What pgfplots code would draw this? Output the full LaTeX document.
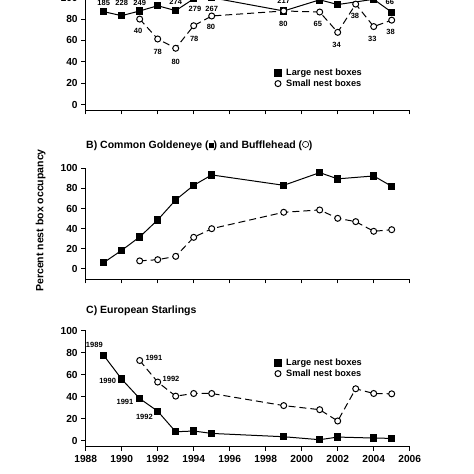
\documentclass[border=0pt]{standalone}
\usepackage{fontspec}
\setmainfont{Liberation Sans}
\usepackage{pgfplots}
\pgfplotsset{compat=1.18}

\tikzset{lab/.style={font=\bfseries\fontsize{7.5}{8}\selectfont, inner sep=0pt}}
\pgfplotsset{
  panel/.style={
    scale only axis, width=324pt,
    xmin=1988, xmax=2006,
    axis lines=left, axis line style={-, line width=0.9pt},
    xtick={1988,1990,...,2006},
    ytick={0,20,...,100},
    tick align=outside, major tick length=4.5pt,
    tick style={line width=0.9pt, black},
    tick label style={font=\bfseries\fontsize{10.2}{12}\selectfont},
    xticklabel style={yshift=-1.5pt},
    /pgf/number format/assume math mode=true,
    /pgf/number format/1000 sep={},
    scaled x ticks=false,
    clip=false,
    legend image code/.code={\draw[#1, solid] plot coordinates {(0pt,0pt)};},
    legend style={draw=none, fill=none, inner sep=0pt,
      font=\bfseries\fontsize{9.2}{10}\selectfont,
      row sep=-1.5pt, column sep=3pt},
    legend cell align=left,
  },
  large/.style={black, line width=1pt, mark=square*, mark size=3.2pt,
    mark options={solid, fill=black}},
  small/.style={black, line width=1pt, dash pattern=on 7pt off 4pt,
    mark=*, mark size=3pt, mark options={solid, fill=white}},
}

\begin{document}
\begin{tikzpicture}
\useasboundingbox (0,0) rectangle (474pt,474pt);
\clip (0,0) rectangle (474pt,474pt);

% A) top panel, cut off at the top
\begin{axis}[panel, height=112.3pt, ymin=-5, ymax=100,
  at={(85.7pt,364pt)}, anchor=south west, xticklabels={},
  legend style={at={(0.583,0.386)}, anchor=north west}]
\addplot[large] coordinates {
  (1989,86.9) (1990,83.2) (1991,87.6) (1992,92.5) (1993,87.9) (1994,99)
  (1995,100) (1999,87.6) (2001,98) (2002,93.6) (2004,98.5) (2005,86.4)};
\addplot[small] coordinates {
  (1991,80) (1992,61.4) (1993,52.7) (1994,73.8) (1995,82.9) (1999,87.6)
  (2001,86.6) (2002,67.6) (2003,94) (2004,73) (2005,79)};
\legend{Large nest boxes, Small nest boxes}
\node[lab] at (axis cs:1989,95.3) {185};
\node[lab] at (axis cs:1990,95.3) {228};
\node[lab] at (axis cs:1991,95.3) {249};
\node[lab] at (axis cs:1993,96.3) {274};
\node[lab] at (axis cs:1994.07,89.2) {279};
\node[lab] at (axis cs:1995,89.2) {267};
\node[lab] at (axis cs:1999,97) {217};
\node[lab] at (axis cs:2004.9,96.3) {66};
\node[lab] at (axis cs:1990.91,69.2) {40};
\node[lab] at (axis cs:1992,49.5) {78};
\node[lab] at (axis cs:1993,39.9) {80};
\node[lab] at (axis cs:1994.03,61.7) {78};
\node[lab] at (axis cs:1994.96,72.9) {80};
\node[lab] at (axis cs:1998.98,75.1) {80};
\node[lab] at (axis cs:2000.9,75.1) {65};
\node[lab] at (axis cs:2001.94,55.5) {34};
\node[lab] at (axis cs:2002.96,82.6) {38};
\node[lab] at (axis cs:2003.92,61.1) {33};
\node[lab] at (axis cs:2004.94,67.7) {38};
\end{axis}

% B) Common Goldeneye and Bufflehead
\begin{axis}[panel, height=110.7pt, ymin=-10, ymax=100,
  at={(85.7pt,195pt)}, anchor=south west, xticklabels={}]
\addplot[large] coordinates {
  (1989,6.3) (1990,18.5) (1991,31.8) (1992,48.7) (1993,68.6) (1994,83.1)
  (1995,93.4) (1999,83.1) (2001,95.7) (2002,89.5) (2004,92.4) (2005,82.1)};
\addplot[small] coordinates {
  (1991,8) (1992,9.2) (1993,12.5) (1994,31.4) (1995,40) (1999,56.3)
  (2001,58.6) (2002,50.3) (2003,47) (2004,37.4) (2005,39)};
\end{axis}

% C) European Starlings
\begin{axis}[panel, height=115.5pt, ymin=-5, ymax=100,
  at={(85.7pt,27.7pt)}, anchor=south west,
  legend style={at={(0.583,0.776)}, anchor=north west}]
\addplot[large] coordinates {
  (1989,77.7) (1990,56) (1991,38.4) (1992,26.9) (1993,8.2) (1994,8.9)
  (1995,6.7) (1999,3.7) (2001,1) (2002,3.4) (2004,2.5) (2005,2.2)};
\addplot[small] coordinates {
  (1991,73) (1992,53.4) (1993,40.6) (1994,43) (1995,43) (1999,32)
  (2001,28.3) (2002,18) (2003,47.3) (2004,43) (2005,42.7)};
\legend{Large nest boxes, Small nest boxes}
\node[lab] at (axis cs:1988.48,87.5) {1989};
\node[lab] at (axis cs:1989.22,54.8) {1990};
\node[lab] at (axis cs:1990.18,35.6) {1991};
\node[lab] at (axis cs:1991.26,21.4) {1992};
\node[lab] at (axis cs:1991.79,75.3) {1991};
\node[lab] at (axis cs:1992.74,56.7) {1992};
\end{axis}

\node[anchor=west, inner sep=0pt, font=\bfseries\fontsize{10.5}{12}\selectfont]
  at (86pt,328.3pt) {B) Common Goldeneye (\tikz[baseline=-0.6pt]\fill (-2.4pt,0pt) rectangle (2.4pt,4.8pt);) and
  Bufflehead (\tikz[baseline=-0.6pt]\draw[line width=0.6pt] (0pt,3.4pt) circle (3.1pt);)};
\node[anchor=west, inner sep=0pt, font=\bfseries\fontsize{10.5}{12}\selectfont]
  at (86pt,163.3pt) {C) European Starlings};
\node[rotate=90, inner sep=0pt, font=\bfseries\fontsize{10.5}{12}\selectfont]
  at (40.7pt,253.5pt) {Percent nest box occupancy};
\end{tikzpicture}
\end{document}
